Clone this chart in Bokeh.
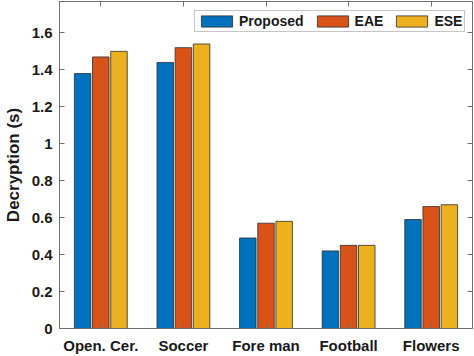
from bokeh.plotting import figure
from bokeh.models import (FactorRange, Range1d, CategoricalAxis, LinearAxis, FixedTicker,
                          Legend, LegendItem, ColumnDataSource)
from bokeh.transform import dodge
from bokeh.embed import file_html
from bokeh.resources import INLINE

categories = ["Open. Cer.", "Soccer", "Fore man", "Football", "Flowers"]
proposed = [1.38, 1.44, 0.49, 0.42, 0.59]
eae = [1.47, 1.52, 0.57, 0.45, 0.66]
ese = [1.50, 1.54, 0.58, 0.45, 0.67]
series_names = ["Proposed", "EAE", "ESE"]
y_ticks = [0, 0.2, 0.4, 0.6, 0.8, 1.0, 1.2, 1.4, 1.6]
y_tick_labels = ["0", "0.2", "0.4", "0.6", "0.8", "1", "1.2", "1.4", "1.6"]

colors = ["#0072BD", "#D95319", "#EDB120"]
AX = "#707070"
TXT = "#1a1a1a"
FONT = "Liberation Sans"

src = ColumnDataSource(dict(cat=categories, proposed=proposed, eae=eae, ese=ese))

p = figure(x_range=FactorRange(factors=categories), y_range=Range1d(0, 1.77),
           width=474, height=356, output_backend="svg", toolbar_location=None,
           min_border_left=56, min_border_right=2, min_border_top=1, min_border_bottom=26)
p.xgrid.visible = False
p.ygrid.visible = False
p.outline_line_color = AX
p.outline_line_width = 1
p.background_fill_color = "white"
p.border_fill_color = "white"

renderers = []
for col, off, c in zip(["proposed", "eae", "ese"], [-0.22, 0.0, 0.22], colors):
    r = p.vbar(x=dodge("cat", off, range=p.x_range), top=col, width=0.2, source=src,
               fill_color=c, line_color="#2e2e2e", line_width=0.8)
    renderers.append(r)

def style_axis(ax):
    ax.axis_line_color = AX
    ax.major_tick_line_color = AX
    ax.minor_tick_line_color = None
    ax.major_tick_in = 5
    ax.major_tick_out = 0

xa = p.xaxis[0]
style_axis(xa)
xa.major_label_text_font = FONT
xa.major_label_text_font_style = "bold"
xa.major_label_text_font_size = "15px"
xa.major_label_text_color = TXT
xa.major_label_standoff = 8

ya = p.yaxis[0]
style_axis(ya)
ya.ticker = FixedTicker(ticks=y_ticks)
ya.major_label_overrides = {t: l for t, l in zip(y_ticks, y_tick_labels)}
ya.major_label_text_font = FONT
ya.major_label_text_font_style = "bold"
ya.major_label_text_font_size = "15px"
ya.major_label_text_color = TXT
ya.major_label_standoff = 7
ya.axis_label = "Decryption (s)"
ya.axis_label_text_font = FONT
ya.axis_label_text_font_style = "bold"
ya.axis_label_text_font_size = "17px"
ya.axis_label_text_color = TXT
ya.axis_label_standoff = 6

top_ax = CategoricalAxis(major_label_text_font_size="1px", major_label_text_color=None,
                         major_label_standoff=0)
style_axis(top_ax)
p.add_layout(top_ax, "above")

right_ax = LinearAxis(ticker=FixedTicker(ticks=y_ticks), major_label_text_font_size="1px",
                      major_label_text_color=None, major_label_standoff=0)
style_axis(right_ax)
p.add_layout(right_ax, "right")

legend = Legend(items=[LegendItem(label=n, renderers=[r]) for n, r in zip(series_names, renderers)],
                orientation="horizontal", location=(135, 296),
                border_line_color="#8c8c8c", border_line_width=1,
                background_fill_color="white", background_fill_alpha=1.0,
                label_text_font=FONT, label_text_font_style="bold",
                label_text_font_size="14px", label_text_color=TXT,
                glyph_width=39, glyph_height=14, label_height=14,
                padding=2, spacing=9, label_standoff=3)
p.add_layout(legend)

open("out.html", "w").write(file_html(p, INLINE))
